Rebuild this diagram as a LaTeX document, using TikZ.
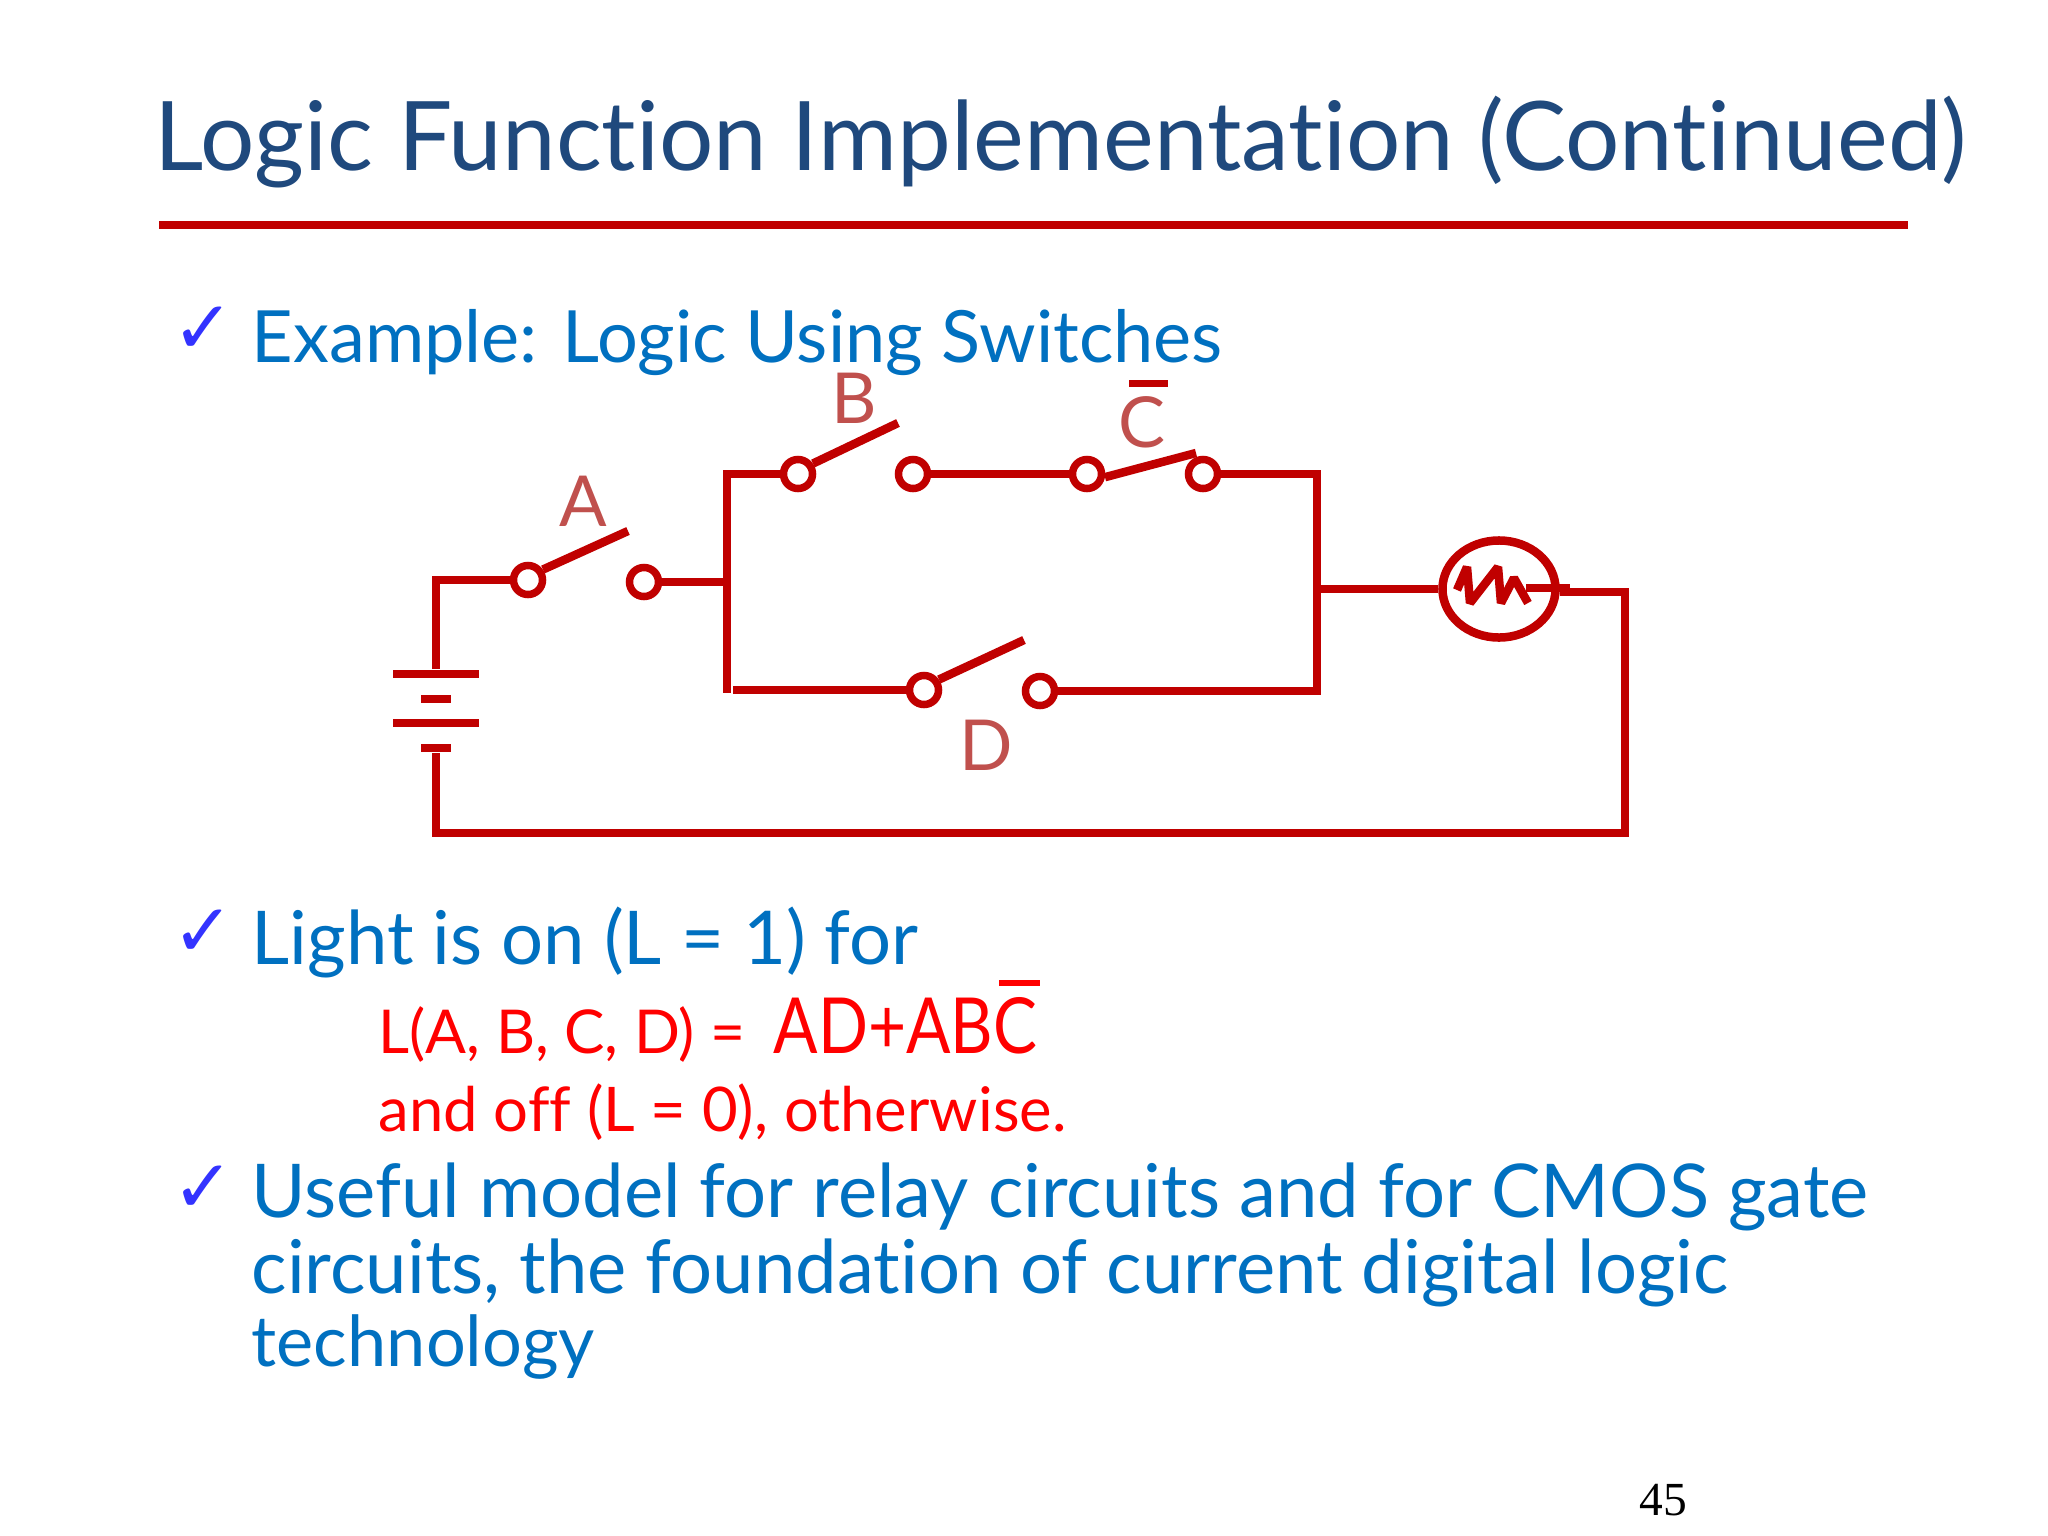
\documentclass[tikz,border=0pt]{standalone}
\usepackage{fontspec}
\setmainfont[Ligatures=NoCommon]{Lato}
\newfontfamily\narrowfont[Ligatures=NoCommon,FakeStretch=0.85]{Lato}
\newfontfamily\numfont{Liberation Serif}
\newfontfamily\tickfont{DejaVu Sans}
\usetikzlibrary{shapes.geometric}
\definecolor{wirered}{HTML}{C00000}
\definecolor{labelred}{HTML}{C0504D}
\definecolor{titleblue}{HTML}{1F497D}
\definecolor{bodyblue}{HTML}{0070C0}
\definecolor{tickblue}{HTML}{3333FF}
\tikzset{
  wire/.style={wirered,line width=0.085cm},
  terminal/.style={circle,draw=wirered,line width=0.075cm,fill=white,minimum size=0.29cm,inner sep=0pt},
  plate/.style={fill=wirered,minimum height=0.085cm,inner sep=0pt},
  swlabel/.style={labelred,font=\fontsize{20}{24}\selectfont,inner sep=0pt},
  bodyline/.style={anchor=base west,inner sep=0pt,bodyblue,font=\fontsize{21.1}{25}\selectfont},
  redline/.style={anchor=base west,inner sep=0pt,red,font=\fontsize{17.5}{21}\selectfont},
  tick/.style={anchor=base west,inner sep=0pt,tickblue,font=\tickfont\fontsize{21}{25}\selectfont},
}
\begin{document}
\begin{tikzpicture}[x=0.01cm,y=-0.01cm]
    \useasboundingbox (0,0) rectangle (2048,1536);
    \node[anchor=base west,inner sep=0pt,titleblue,font=\fontsize{27.3}{32}\selectfont] (title) at (154,170) {Logic Function Implementation (Continued)};
    \coordinate (ruleL) at (159,225);
    \coordinate (ruleR) at (1908,225);
    \draw[wire] (ruleL) -- (ruleR);
    \node[tick] (tick1) at (172,353) {✓};
    \node[bodyline,font=\fontsize{20.5}{25}\selectfont] (line1) at (251,362) {Example: Logic Using Switches};
    \node[plate,minimum width=0.85cm] (plate1) at (436,674) {};
    \node[plate,minimum width=0.29cm] (plate2) at (436,699) {};
    \node[plate,minimum width=0.85cm] (plate3) at (436,723) {};
    \node[plate,minimum width=0.29cm] (plate4) at (436,748) {};
    \node[terminal] (a1) at (528,580) {};
    \node[terminal] (a2) at (644,582) {};
    \node[terminal] (b1) at (798,474) {};
    \node[terminal] (b2) at (913,474) {};
    \node[terminal] (c1) at (1087,474) {};
    \node[terminal] (c2) at (1203,474) {};
    \node[terminal] (d1) at (924,690) {};
    \node[terminal] (d2) at (1040,691) {};
    \coordinate (a1tip) at (628,531);
    \coordinate (b1tip) at (898,423);
    \coordinate (c1tip) at (1196,453);
    \coordinate (d1tip) at (1024,640);
    \coordinate (busTop) at (727,470);
    \coordinate (busBot) at (727,693);
    \coordinate (rightTop) at (1317,474);
    \coordinate (rightBot) at (1317,691);
    \coordinate (rightMid) at (1317,589);
    \coordinate (outer) at (1625,592);
    \coordinate (base) at (1625,833);
    \coordinate (lowIn) at (733,690);
    \draw[wire] (plate1.north) |- (a1);
    \draw[wire] (a2) -- (a2 -| busTop);
    \draw[wire] (busTop) -- (busBot);
    \draw[wire] (b1 -| busTop) -- (b1);
    \draw[wire] (b2) -- (c1);
    \draw[wire] (c2) -- (rightTop) -- (rightBot) -- (d2);
    \draw[wire] (lowIn) -- (d1);
    \draw[wire] (a1.35) -- (a1tip);
    \draw[wire] (b1.35) -- (b1tip);
    \draw[wire] (d1.35) -- (d1tip);
    \draw[wire] (c1.-10) -- (c1tip);
    \node[ellipse,draw=wirered,line width=0.085cm,minimum width=1.13cm,minimum height=0.97cm,inner sep=0pt] (lamp) at (1499,589) {};
    \draw[wire] (rightMid) -- (lamp);
    \draw[wire,line join=bevel] (1457,590) -- (1467,567) -- (1470,603) -- (1498,567) -- (1501,603) -- (1514,578) -- (1528,603);
    \coordinate (filament) at (1526,588);
    \coordinate (filamentEnd) at (1570,588);
    \draw[wire] (filament) -- (filamentEnd);
    \draw[wire] (lamp.east |- outer) -- (outer) -- (base) -- (base -| plate4) -- (plate4.south);
    \node[swlabel] (labA) at (583,501) {A};
    \node[swlabel] (labB) at (854,398) {B};
    \node[swlabel] (labC) at (1142,422) {C};
    \node[swlabel] (labD) at (986,745) {D};
    \coordinate (barCl) at (1129,383);
    \coordinate (barCr) at (1168,383);
    \draw[wire,line width=0.07cm] (barCl) -- (barCr);
    \node[tick] (tick2) at (172,956) {✓};
    \node[bodyline] (line2) at (251,964) {Light is on (L = 1) for};
    \node[redline,font=\fontsize{17.2}{21}\selectfont] (line3) at (378,1053) {L(A, B, C, D) =};
    \node[redline,font=\narrowfont\fontsize{22}{27}\selectfont] (line3b) at (773,1053) {AD+ABC};
    \coordinate (barFl) at (999,983);
    \coordinate (barFr) at (1040,983);
    \draw[wire,line width=0.06cm,red] (barFl) -- (barFr);
    \node[redline] (line4) at (378,1131) {and off (L = 0), otherwise.};
    \node[tick] (tick3) at (172,1212) {✓};
    \node[bodyline] (line5) at (251,1217) {Useful model for relay circuits and for CMOS gate};
    \node[bodyline] (line6) at (251,1293) {circuits, the foundation of current digital logic};
    \node[bodyline,font=\fontsize{20}{25}\selectfont] (line7) at (251,1366) {technology};
    \node[anchor=base west,inner sep=0pt,font=\numfont\fontsize{13.5}{16}\selectfont] (page) at (1639,1515) {45};
\end{tikzpicture}
\end{document}
